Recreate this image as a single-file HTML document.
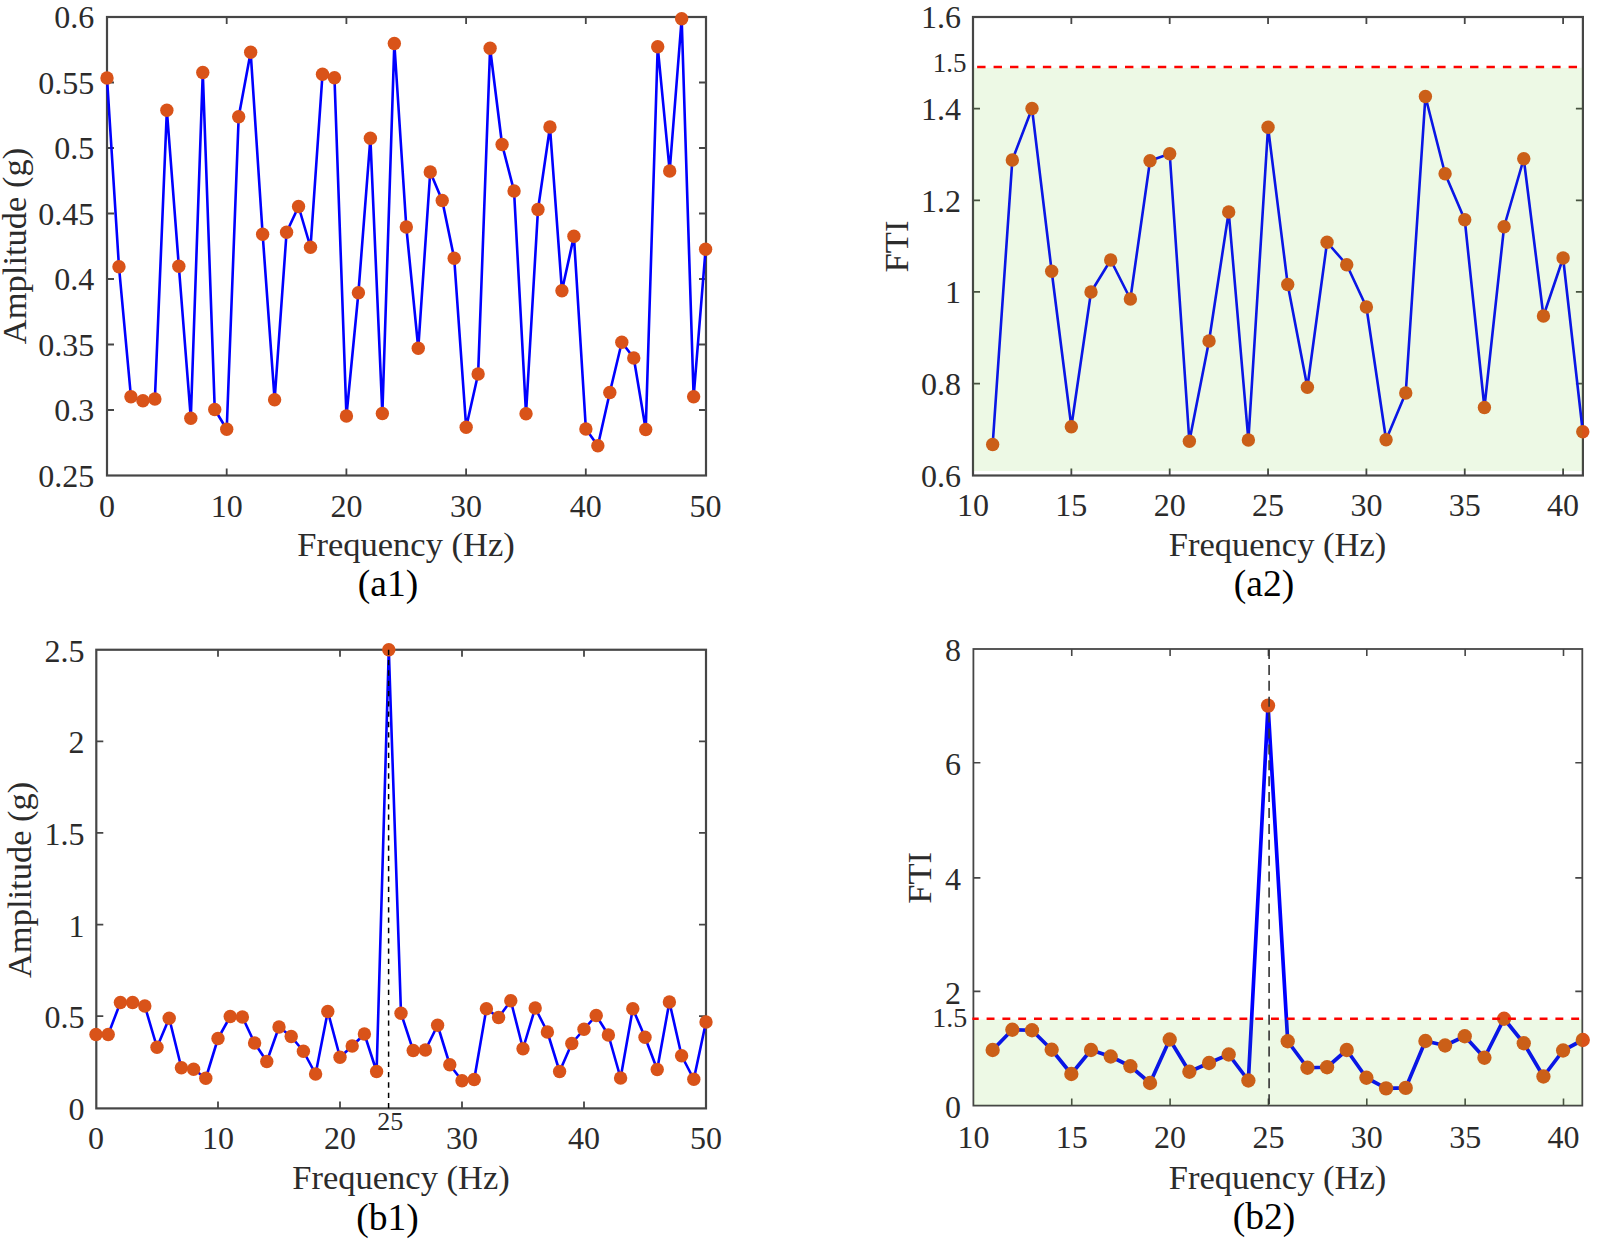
<!DOCTYPE html>
<html lang="en">
<head>
<meta charset="utf-8">
<title>Amplitude and FTI spectra</title>
<style>
html,body{margin:0;padding:0;background:#fff;}
body{width:1600px;height:1247px;overflow:hidden;}
svg{display:block;}
</style>
</head>
<body>
<svg width="1600" height="1247" viewBox="0 0 1600 1247" font-family="'Liberation Serif', serif">
<rect width="1600" height="1247" fill="#fff"/>
<g id="a1">
<rect x="107" y="17" width="599" height="458.5" fill="none" stroke="#464646" stroke-width="2.2"/><path d="M226.7 475.5v-7 M226.7 17v7 M346.4 475.5v-7 M346.4 17v7 M466.1 475.5v-7 M466.1 17v7 M585.8 475.5v-7 M585.8 17v7 M107 82.5h7 M706 82.5h-7 M107 148h7 M706 148h-7 M107 213.5h7 M706 213.5h-7 M107 279h7 M706 279h-7 M107 344.5h7 M706 344.5h-7 M107 410h7 M706 410h-7" stroke="#464646" stroke-width="1.8" fill="none"/>
<polyline fill="none" stroke="#0000ff" stroke-width="2.6" stroke-linejoin="round" points="107,78 118.97,266.75 130.94,396.75 142.92,400.75 154.89,399 166.86,110.25 178.83,266.25 190.8,418.25 202.78,72.5 214.75,409.5 226.72,429.25 238.69,116.75 250.66,52.25 262.64,234.25 274.61,399.75 286.58,232.25 298.55,206.5 310.52,247.25 322.5,74.25 334.47,77.75 346.44,416 358.41,292.75 370.38,138.25 382.36,413.5 394.33,43.5 406.3,227 418.27,348.25 430.24,172 442.22,200.5 454.19,258.25 466.16,427.25 478.13,374 490.1,48.25 502.08,144.5 514.05,191 526.02,413.75 537.99,209.5 549.96,127 561.94,290.75 573.91,236.25 585.88,429 597.85,445.75 609.82,392.5 621.8,342.25 633.77,358 645.74,429.5 657.71,46.75 669.68,171 681.66,18.75 693.63,396.75 705.6,249.25"/>
<g fill="#d95319"><circle cx="107" cy="78" r="6.7"/><circle cx="118.97" cy="266.75" r="6.7"/><circle cx="130.94" cy="396.75" r="6.7"/><circle cx="142.92" cy="400.75" r="6.7"/><circle cx="154.89" cy="399" r="6.7"/><circle cx="166.86" cy="110.25" r="6.7"/><circle cx="178.83" cy="266.25" r="6.7"/><circle cx="190.8" cy="418.25" r="6.7"/><circle cx="202.78" cy="72.5" r="6.7"/><circle cx="214.75" cy="409.5" r="6.7"/><circle cx="226.72" cy="429.25" r="6.7"/><circle cx="238.69" cy="116.75" r="6.7"/><circle cx="250.66" cy="52.25" r="6.7"/><circle cx="262.64" cy="234.25" r="6.7"/><circle cx="274.61" cy="399.75" r="6.7"/><circle cx="286.58" cy="232.25" r="6.7"/><circle cx="298.55" cy="206.5" r="6.7"/><circle cx="310.52" cy="247.25" r="6.7"/><circle cx="322.5" cy="74.25" r="6.7"/><circle cx="334.47" cy="77.75" r="6.7"/><circle cx="346.44" cy="416" r="6.7"/><circle cx="358.41" cy="292.75" r="6.7"/><circle cx="370.38" cy="138.25" r="6.7"/><circle cx="382.36" cy="413.5" r="6.7"/><circle cx="394.33" cy="43.5" r="6.7"/><circle cx="406.3" cy="227" r="6.7"/><circle cx="418.27" cy="348.25" r="6.7"/><circle cx="430.24" cy="172" r="6.7"/><circle cx="442.22" cy="200.5" r="6.7"/><circle cx="454.19" cy="258.25" r="6.7"/><circle cx="466.16" cy="427.25" r="6.7"/><circle cx="478.13" cy="374" r="6.7"/><circle cx="490.1" cy="48.25" r="6.7"/><circle cx="502.08" cy="144.5" r="6.7"/><circle cx="514.05" cy="191" r="6.7"/><circle cx="526.02" cy="413.75" r="6.7"/><circle cx="537.99" cy="209.5" r="6.7"/><circle cx="549.96" cy="127" r="6.7"/><circle cx="561.94" cy="290.75" r="6.7"/><circle cx="573.91" cy="236.25" r="6.7"/><circle cx="585.88" cy="429" r="6.7"/><circle cx="597.85" cy="445.75" r="6.7"/><circle cx="609.82" cy="392.5" r="6.7"/><circle cx="621.8" cy="342.25" r="6.7"/><circle cx="633.77" cy="358" r="6.7"/><circle cx="645.74" cy="429.5" r="6.7"/><circle cx="657.71" cy="46.75" r="6.7"/><circle cx="669.68" cy="171" r="6.7"/><circle cx="681.66" cy="18.75" r="6.7"/><circle cx="693.63" cy="396.75" r="6.7"/><circle cx="705.6" cy="249.25" r="6.7"/></g>
<text x="107" y="516.5" font-size="32" text-anchor="middle" fill="#2b2b2b">0</text>
<text x="226.7" y="516.5" font-size="32" text-anchor="middle" fill="#2b2b2b">10</text>
<text x="346.4" y="516.5" font-size="32" text-anchor="middle" fill="#2b2b2b">20</text>
<text x="466.1" y="516.5" font-size="32" text-anchor="middle" fill="#2b2b2b">30</text>
<text x="585.8" y="516.5" font-size="32" text-anchor="middle" fill="#2b2b2b">40</text>
<text x="705.5" y="516.5" font-size="32" text-anchor="middle" fill="#2b2b2b">50</text>
<text x="94.3" y="28.3" font-size="32" text-anchor="end" fill="#2b2b2b">0.6</text>
<text x="94.3" y="93.8" font-size="32" text-anchor="end" fill="#2b2b2b">0.55</text>
<text x="94.3" y="159.3" font-size="32" text-anchor="end" fill="#2b2b2b">0.5</text>
<text x="94.3" y="224.8" font-size="32" text-anchor="end" fill="#2b2b2b">0.45</text>
<text x="94.3" y="290.3" font-size="32" text-anchor="end" fill="#2b2b2b">0.4</text>
<text x="94.3" y="355.8" font-size="32" text-anchor="end" fill="#2b2b2b">0.35</text>
<text x="94.3" y="421.3" font-size="32" text-anchor="end" fill="#2b2b2b">0.3</text>
<text x="94.3" y="486.8" font-size="32" text-anchor="end" fill="#2b2b2b">0.25</text>
<text x="406" y="556" font-size="34.5" text-anchor="middle" fill="#2b2b2b">Frequency (Hz)</text>
<text x="25.7" y="246" font-size="34.5" text-anchor="middle" fill="#2b2b2b" transform="rotate(-90 25.7 246)">Amplitude (g)</text>
<text x="388" y="596" font-size="37.5" text-anchor="middle" fill="#000">(a1)</text>
</g>
<g id="a2">
<rect x="973" y="17" width="609.9" height="458.5" fill="none" stroke="#464646" stroke-width="2.2"/><path d="M1071.35 475.5v-7 M1071.35 17v7 M1169.7 475.5v-7 M1169.7 17v7 M1268.05 475.5v-7 M1268.05 17v7 M1366.4 475.5v-7 M1366.4 17v7 M1464.75 475.5v-7 M1464.75 17v7 M1563.1 475.5v-7 M1563.1 17v7 M973 108.65h7 M1582.9 108.65h-7 M973 200.3h7 M1582.9 200.3h-7 M973 291.95h7 M1582.9 291.95h-7 M973 383.6h7 M1582.9 383.6h-7" stroke="#464646" stroke-width="1.8" fill="none"/>
<polyline fill="none" stroke="#0000ff" stroke-width="2.6" stroke-linejoin="round" points="992.67,444.5 1012.34,160 1032.01,108.5 1051.68,271.25 1071.35,426.75 1091.02,292 1110.69,260 1130.36,299 1150.03,160.75 1169.7,153.75 1189.37,441.25 1209.04,341 1228.71,212 1248.38,440 1268.05,127.25 1287.72,284.5 1307.39,387.25 1327.06,242.25 1346.73,264.75 1366.4,307 1386.07,439.75 1405.74,393 1425.41,96.5 1445.08,173.75 1464.75,219.75 1484.42,407.5 1504.09,226.75 1523.76,158.75 1543.43,316 1563.1,258 1582.77,431.75"/>
<g fill="#d95319"><circle cx="992.67" cy="444.5" r="6.7"/><circle cx="1012.34" cy="160" r="6.7"/><circle cx="1032.01" cy="108.5" r="6.7"/><circle cx="1051.68" cy="271.25" r="6.7"/><circle cx="1071.35" cy="426.75" r="6.7"/><circle cx="1091.02" cy="292" r="6.7"/><circle cx="1110.69" cy="260" r="6.7"/><circle cx="1130.36" cy="299" r="6.7"/><circle cx="1150.03" cy="160.75" r="6.7"/><circle cx="1169.7" cy="153.75" r="6.7"/><circle cx="1189.37" cy="441.25" r="6.7"/><circle cx="1209.04" cy="341" r="6.7"/><circle cx="1228.71" cy="212" r="6.7"/><circle cx="1248.38" cy="440" r="6.7"/><circle cx="1268.05" cy="127.25" r="6.7"/><circle cx="1287.72" cy="284.5" r="6.7"/><circle cx="1307.39" cy="387.25" r="6.7"/><circle cx="1327.06" cy="242.25" r="6.7"/><circle cx="1346.73" cy="264.75" r="6.7"/><circle cx="1366.4" cy="307" r="6.7"/><circle cx="1386.07" cy="439.75" r="6.7"/><circle cx="1405.74" cy="393" r="6.7"/><circle cx="1425.41" cy="96.5" r="6.7"/><circle cx="1445.08" cy="173.75" r="6.7"/><circle cx="1464.75" cy="219.75" r="6.7"/><circle cx="1484.42" cy="407.5" r="6.7"/><circle cx="1504.09" cy="226.75" r="6.7"/><circle cx="1523.76" cy="158.75" r="6.7"/><circle cx="1543.43" cy="316" r="6.7"/><circle cx="1563.1" cy="258" r="6.7"/><circle cx="1582.77" cy="431.75" r="6.7"/></g>
<path d="M973 67H1582.9" stroke="#ff0000" stroke-width="2.3" stroke-dasharray="8.4 8.03" stroke-dashoffset="12.29" fill="none"/>
<rect x="973.5" y="67.8" width="608.9" height="403.2" fill="#58c810" fill-opacity="0.11"/>
<text x="973" y="516.3" font-size="32" text-anchor="middle" fill="#2b2b2b">10</text>
<text x="1071.35" y="516.3" font-size="32" text-anchor="middle" fill="#2b2b2b">15</text>
<text x="1169.7" y="516.3" font-size="32" text-anchor="middle" fill="#2b2b2b">20</text>
<text x="1268.05" y="516.3" font-size="32" text-anchor="middle" fill="#2b2b2b">25</text>
<text x="1366.4" y="516.3" font-size="32" text-anchor="middle" fill="#2b2b2b">30</text>
<text x="1464.75" y="516.3" font-size="32" text-anchor="middle" fill="#2b2b2b">35</text>
<text x="1563.1" y="516.3" font-size="32" text-anchor="middle" fill="#2b2b2b">40</text>
<text x="961" y="28.3" font-size="32" text-anchor="end" fill="#2b2b2b">1.6</text>
<text x="961" y="119.95" font-size="32" text-anchor="end" fill="#2b2b2b">1.4</text>
<text x="961" y="211.6" font-size="32" text-anchor="end" fill="#2b2b2b">1.2</text>
<text x="961" y="303.25" font-size="32" text-anchor="end" fill="#2b2b2b">1</text>
<text x="961" y="394.9" font-size="32" text-anchor="end" fill="#2b2b2b">0.8</text>
<text x="961" y="486.55" font-size="32" text-anchor="end" fill="#2b2b2b">0.6</text>
<text x="966.5" y="72" font-size="27" text-anchor="end" fill="#2b2b2b">1.5</text>
<text x="1277.5" y="555.5" font-size="34.5" text-anchor="middle" fill="#2b2b2b">Frequency (Hz)</text>
<text x="908.3" y="246.5" font-size="34.5" text-anchor="middle" fill="#2b2b2b" transform="rotate(-90 908.3 246.5)">FTI</text>
<text x="1264" y="596" font-size="37.5" text-anchor="middle" fill="#000">(a2)</text>
</g>
<g id="b1">
<rect x="96.3" y="649.75" width="609.7" height="458.65" fill="none" stroke="#464646" stroke-width="2.2"/><path d="M218 1108.4v-7 M218 649.75v7 M340 1108.4v-7 M340 649.75v7 M462 1108.4v-7 M462 649.75v7 M584 1108.4v-7 M584 649.75v7 M96.3 741.35h7 M706 741.35h-7 M96.3 832.95h7 M706 832.95h-7 M96.3 924.55h7 M706 924.55h-7 M96.3 1016.15h7 M706 1016.15h-7" stroke="#464646" stroke-width="1.8" fill="none"/>
<polyline fill="none" stroke="#0000ff" stroke-width="2.6" stroke-linejoin="round" points="96,1034.5 108.2,1034.5 120.4,1002.5 132.6,1002.5 144.8,1006 157,1047.25 169.2,1018.25 181.4,1067.75 193.6,1069.25 205.8,1078.25 218,1038.5 230.2,1016.5 242.4,1017 254.6,1043 266.8,1061.5 279,1027 291.2,1036.5 303.4,1051.25 315.6,1074 327.8,1011.5 340,1057.25 352.2,1046 364.4,1034 376.6,1071.5 388.8,649.75 401,1013.25 413.2,1050.5 425.4,1050 437.6,1025.25 449.8,1064.75 462,1080.75 474.2,1079.5 486.4,1008.75 498.6,1017.5 510.8,1000.75 523,1048.75 535.2,1008 547.4,1032 559.6,1071.5 571.8,1043.5 584,1029.25 596.2,1015.5 608.4,1035 620.6,1078 632.8,1008.75 645,1037.25 657.2,1069.5 669.4,1002 681.6,1055.75 693.8,1079.25 706,1022"/>
<g fill="#d95319"><circle cx="96" cy="1034.5" r="6.7"/><circle cx="108.2" cy="1034.5" r="6.7"/><circle cx="120.4" cy="1002.5" r="6.7"/><circle cx="132.6" cy="1002.5" r="6.7"/><circle cx="144.8" cy="1006" r="6.7"/><circle cx="157" cy="1047.25" r="6.7"/><circle cx="169.2" cy="1018.25" r="6.7"/><circle cx="181.4" cy="1067.75" r="6.7"/><circle cx="193.6" cy="1069.25" r="6.7"/><circle cx="205.8" cy="1078.25" r="6.7"/><circle cx="218" cy="1038.5" r="6.7"/><circle cx="230.2" cy="1016.5" r="6.7"/><circle cx="242.4" cy="1017" r="6.7"/><circle cx="254.6" cy="1043" r="6.7"/><circle cx="266.8" cy="1061.5" r="6.7"/><circle cx="279" cy="1027" r="6.7"/><circle cx="291.2" cy="1036.5" r="6.7"/><circle cx="303.4" cy="1051.25" r="6.7"/><circle cx="315.6" cy="1074" r="6.7"/><circle cx="327.8" cy="1011.5" r="6.7"/><circle cx="340" cy="1057.25" r="6.7"/><circle cx="352.2" cy="1046" r="6.7"/><circle cx="364.4" cy="1034" r="6.7"/><circle cx="376.6" cy="1071.5" r="6.7"/><circle cx="388.8" cy="649.75" r="6.7"/><circle cx="401" cy="1013.25" r="6.7"/><circle cx="413.2" cy="1050.5" r="6.7"/><circle cx="425.4" cy="1050" r="6.7"/><circle cx="437.6" cy="1025.25" r="6.7"/><circle cx="449.8" cy="1064.75" r="6.7"/><circle cx="462" cy="1080.75" r="6.7"/><circle cx="474.2" cy="1079.5" r="6.7"/><circle cx="486.4" cy="1008.75" r="6.7"/><circle cx="498.6" cy="1017.5" r="6.7"/><circle cx="510.8" cy="1000.75" r="6.7"/><circle cx="523" cy="1048.75" r="6.7"/><circle cx="535.2" cy="1008" r="6.7"/><circle cx="547.4" cy="1032" r="6.7"/><circle cx="559.6" cy="1071.5" r="6.7"/><circle cx="571.8" cy="1043.5" r="6.7"/><circle cx="584" cy="1029.25" r="6.7"/><circle cx="596.2" cy="1015.5" r="6.7"/><circle cx="608.4" cy="1035" r="6.7"/><circle cx="620.6" cy="1078" r="6.7"/><circle cx="632.8" cy="1008.75" r="6.7"/><circle cx="645" cy="1037.25" r="6.7"/><circle cx="657.2" cy="1069.5" r="6.7"/><circle cx="669.4" cy="1002" r="6.7"/><circle cx="681.6" cy="1055.75" r="6.7"/><circle cx="693.8" cy="1079.25" r="6.7"/><circle cx="706" cy="1022" r="6.7"/></g>
<line x1="388.6" y1="649.75" x2="388.6" y2="1108.4" stroke="#000" stroke-width="1.5" stroke-dasharray="5.3 5"/>
<text x="96" y="1149" font-size="32" text-anchor="middle" fill="#2b2b2b">0</text>
<text x="218" y="1149" font-size="32" text-anchor="middle" fill="#2b2b2b">10</text>
<text x="340" y="1149" font-size="32" text-anchor="middle" fill="#2b2b2b">20</text>
<text x="462" y="1149" font-size="32" text-anchor="middle" fill="#2b2b2b">30</text>
<text x="584" y="1149" font-size="32" text-anchor="middle" fill="#2b2b2b">40</text>
<text x="706" y="1149" font-size="32" text-anchor="middle" fill="#2b2b2b">50</text>
<text x="84.5" y="661.75" font-size="32" text-anchor="end" fill="#2b2b2b">2.5</text>
<text x="84.5" y="753.35" font-size="32" text-anchor="end" fill="#2b2b2b">2</text>
<text x="84.5" y="844.95" font-size="32" text-anchor="end" fill="#2b2b2b">1.5</text>
<text x="84.5" y="936.55" font-size="32" text-anchor="end" fill="#2b2b2b">1</text>
<text x="84.5" y="1028.15" font-size="32" text-anchor="end" fill="#2b2b2b">0.5</text>
<text x="84.5" y="1119.75" font-size="32" text-anchor="end" fill="#2b2b2b">0</text>
<text x="390.2" y="1129.8" font-size="26" text-anchor="middle" fill="#2b2b2b">25</text>
<text x="401" y="1188.7" font-size="34.5" text-anchor="middle" fill="#2b2b2b">Frequency (Hz)</text>
<text x="31.3" y="879.9" font-size="34.5" text-anchor="middle" fill="#2b2b2b" transform="rotate(-90 31.3 879.9)">Amplitude (g)</text>
<text x="387.5" y="1229.7" font-size="37.5" text-anchor="middle" fill="#000">(b1)</text>
</g>
<g id="b2">
<rect x="973.4" y="649" width="608.9" height="456.6" fill="none" stroke="#464646" stroke-width="1.8"/><path d="M1071.75 1105.6v-7 M1071.75 649v7 M1170.1 1105.6v-7 M1170.1 649v7 M1268.45 1105.6v-7 M1268.45 649v7 M1366.8 1105.6v-7 M1366.8 649v7 M1465.15 1105.6v-7 M1465.15 649v7 M1563.5 1105.6v-7 M1563.5 649v7 M973.4 762.8h7 M1582.3 762.8h-7 M973.4 877.9h7 M1582.3 877.9h-7 M973.4 991.4h7 M1582.3 991.4h-7" stroke="#464646" stroke-width="1.6" fill="none"/>
<polyline fill="none" stroke="#0000ff" stroke-width="3.7" stroke-linejoin="round" points="992.67,1050 1012.34,1029.75 1032.01,1030.25 1051.68,1049.75 1071.35,1074 1091.02,1050 1110.69,1056.5 1130.36,1066.25 1150.03,1083 1169.7,1039.5 1189.37,1071.75 1209.04,1063 1228.71,1054.5 1248.38,1080.5 1268.05,705.6 1287.72,1041.25 1307.39,1067.75 1327.06,1067.25 1346.73,1050 1366.4,1077.75 1386.07,1088.4 1405.74,1087.9 1425.41,1041 1445.08,1045.5 1464.75,1036.25 1484.42,1057.75 1504.09,1018.75 1523.76,1043.25 1543.43,1076.5 1563.1,1050.5 1582.77,1040"/>
<g fill="#d95319"><circle cx="992.67" cy="1050" r="7.15"/><circle cx="1012.34" cy="1029.75" r="7.15"/><circle cx="1032.01" cy="1030.25" r="7.15"/><circle cx="1051.68" cy="1049.75" r="7.15"/><circle cx="1071.35" cy="1074" r="7.15"/><circle cx="1091.02" cy="1050" r="7.15"/><circle cx="1110.69" cy="1056.5" r="7.15"/><circle cx="1130.36" cy="1066.25" r="7.15"/><circle cx="1150.03" cy="1083" r="7.15"/><circle cx="1169.7" cy="1039.5" r="7.15"/><circle cx="1189.37" cy="1071.75" r="7.15"/><circle cx="1209.04" cy="1063" r="7.15"/><circle cx="1228.71" cy="1054.5" r="7.15"/><circle cx="1248.38" cy="1080.5" r="7.15"/><circle cx="1268.05" cy="705.6" r="7.15"/><circle cx="1287.72" cy="1041.25" r="7.15"/><circle cx="1307.39" cy="1067.75" r="7.15"/><circle cx="1327.06" cy="1067.25" r="7.15"/><circle cx="1346.73" cy="1050" r="7.15"/><circle cx="1366.4" cy="1077.75" r="7.15"/><circle cx="1386.07" cy="1088.4" r="7.15"/><circle cx="1405.74" cy="1087.9" r="7.15"/><circle cx="1425.41" cy="1041" r="7.15"/><circle cx="1445.08" cy="1045.5" r="7.15"/><circle cx="1464.75" cy="1036.25" r="7.15"/><circle cx="1484.42" cy="1057.75" r="7.15"/><circle cx="1504.09" cy="1018.75" r="7.15"/><circle cx="1523.76" cy="1043.25" r="7.15"/><circle cx="1543.43" cy="1076.5" r="7.15"/><circle cx="1563.1" cy="1050.5" r="7.15"/><circle cx="1582.77" cy="1040" r="7.15"/></g>
<path d="M972.4 1018.8H1582.3" stroke="#ff0000" stroke-width="2.5" stroke-dasharray="7.9 7.9" stroke-dashoffset="1.6" fill="none"/>
<rect x="973.9" y="1019.5" width="607.9" height="85.6" fill="#58c810" fill-opacity="0.11"/>
<line x1="1269.1" y1="649" x2="1269.1" y2="1105.6" stroke="#333" stroke-width="1.6" stroke-dasharray="10 5.9"/>
<text x="973.4" y="1147.5" font-size="32" text-anchor="middle" fill="#2b2b2b">10</text>
<text x="1071.75" y="1147.5" font-size="32" text-anchor="middle" fill="#2b2b2b">15</text>
<text x="1170.1" y="1147.5" font-size="32" text-anchor="middle" fill="#2b2b2b">20</text>
<text x="1268.45" y="1147.5" font-size="32" text-anchor="middle" fill="#2b2b2b">25</text>
<text x="1366.8" y="1147.5" font-size="32" text-anchor="middle" fill="#2b2b2b">30</text>
<text x="1465.15" y="1147.5" font-size="32" text-anchor="middle" fill="#2b2b2b">35</text>
<text x="1563.5" y="1147.5" font-size="32" text-anchor="middle" fill="#2b2b2b">40</text>
<text x="961" y="661.2" font-size="32" text-anchor="end" fill="#2b2b2b">8</text>
<text x="961" y="775" font-size="32" text-anchor="end" fill="#2b2b2b">6</text>
<text x="961" y="890.1" font-size="32" text-anchor="end" fill="#2b2b2b">4</text>
<text x="961" y="1003.6" font-size="32" text-anchor="end" fill="#2b2b2b">2</text>
<text x="961" y="1117.8" font-size="32" text-anchor="end" fill="#2b2b2b">0</text>
<text x="967.3" y="1026.6" font-size="28" text-anchor="end" fill="#2b2b2b">1.5</text>
<text x="1277.5" y="1188.5" font-size="34.5" text-anchor="middle" fill="#2b2b2b">Frequency (Hz)</text>
<text x="931" y="877.8" font-size="34.5" text-anchor="middle" fill="#2b2b2b" transform="rotate(-90 931 877.8)">FTI</text>
<text x="1264" y="1229.2" font-size="37.5" text-anchor="middle" fill="#000">(b2)</text>
</g>
</svg>
</body>
</html>
